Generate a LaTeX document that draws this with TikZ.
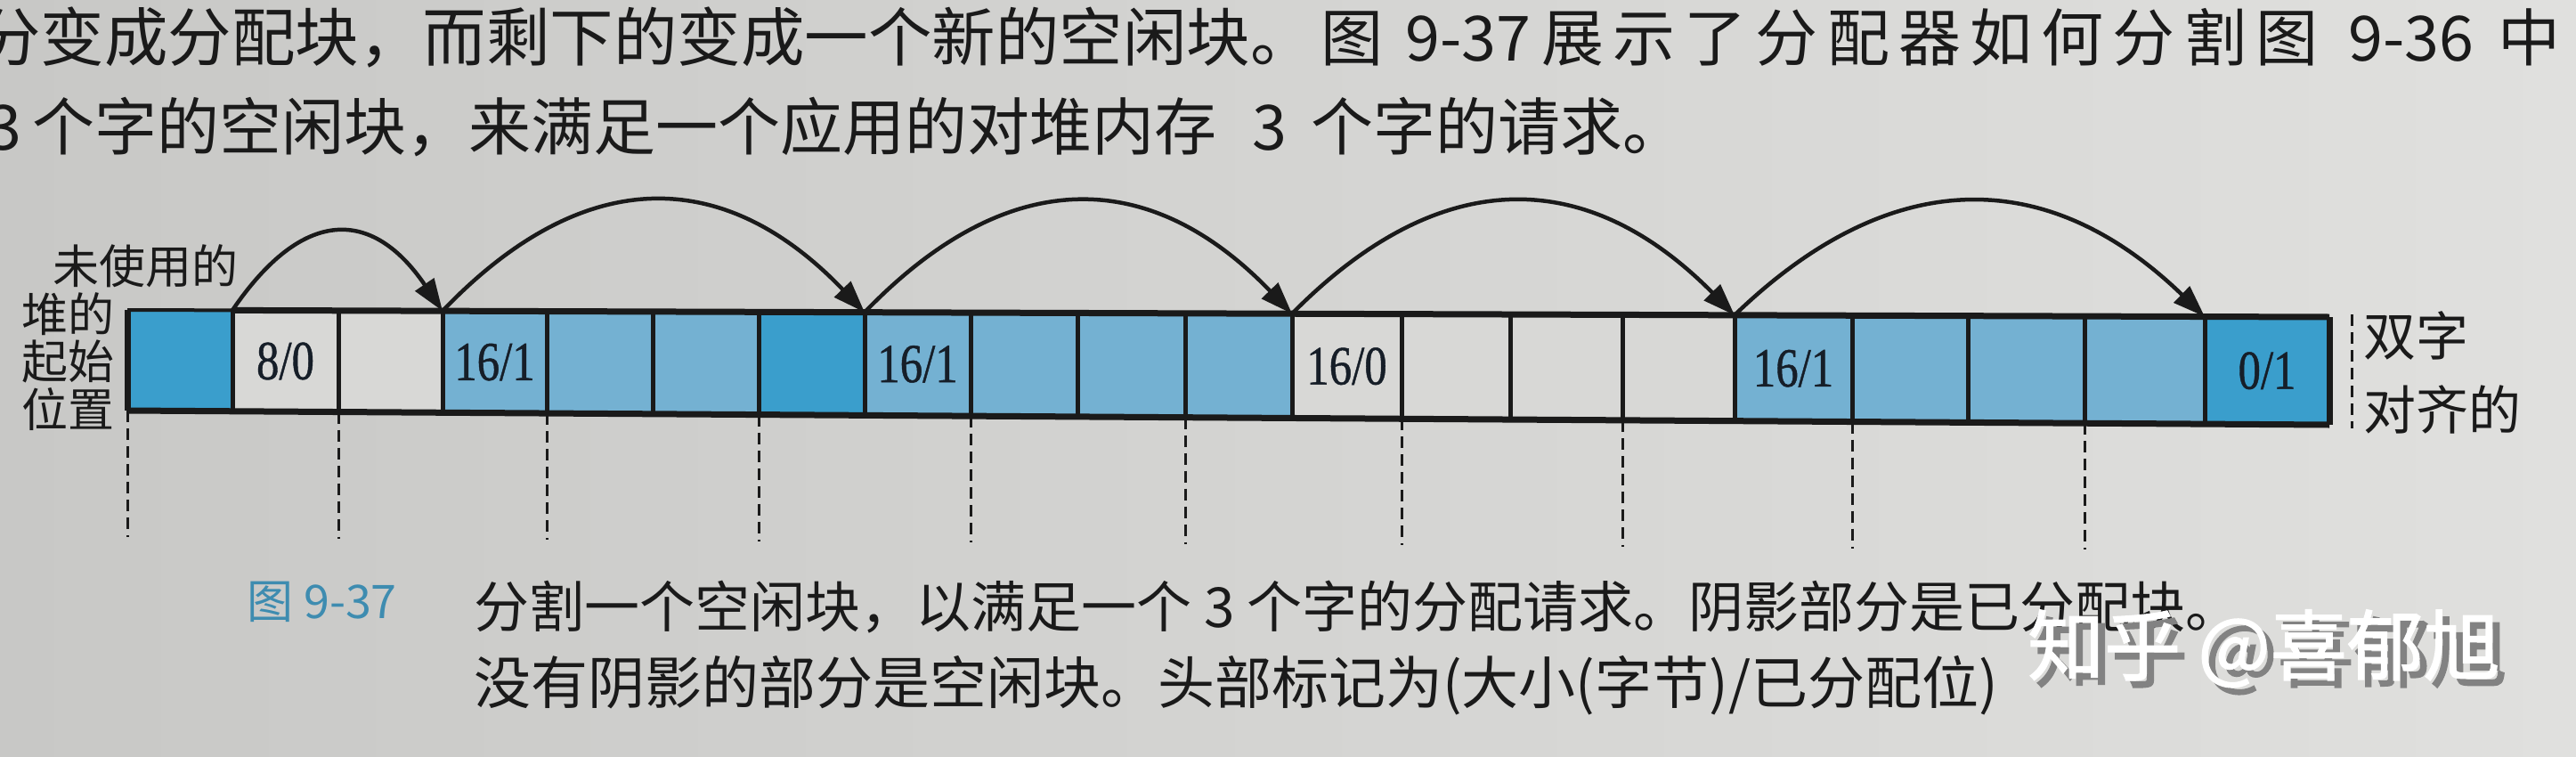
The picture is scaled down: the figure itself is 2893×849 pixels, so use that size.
\documentclass[tikz,border=0pt]{standalone}
\usepackage{fontspec}
\setmainfont{Liberation Serif}
\newfontfamily\cjk{Noto Sans CJK SC}
\newfontfamily\cjkwm[FakeBold=1.6]{Noto Sans CJK SC}
\newfontfamily\cellfont[FakeBold=0.8]{Liberation Serif}
\usetikzlibrary{arrows.meta,calc}
\definecolor{paperL}{RGB}{200,200,198}
\definecolor{paperR}{RGB}{224,224,222}
\definecolor{freecell}{RGB}{216,216,214}
\definecolor{darkblue}{RGB}{58,158,204}
\definecolor{lightblue}{RGB}{116,177,210}
\definecolor{inkc}{RGB}{26,26,26}
\definecolor{cellink}{RGB}{22,30,40}
\definecolor{capblue}{RGB}{62,140,176}
\definecolor{wmshadow}{RGB}{130,130,130}
\tikzset{
  toptext/.style={anchor=base west, inner sep=0pt, font=\cjk\fontsize{70pt}{70pt}\selectfont, text=inkc},
  captext/.style={anchor=base west, inner sep=0pt, font=\cjk\fontsize{62pt}{62pt}\selectfont, text=inkc},
  sidetext/.style={inner sep=0pt, font=\cjk\fontsize{52pt}{52pt}\selectfont, text=inkc},
  sidetextR/.style={anchor=base west, inner sep=0pt, font=\cjk\fontsize{59pt}{59pt}\selectfont, text=inkc},
  celltext/.style={inner sep=0pt, font=\cellfont\fontsize{62pt}{62pt}\selectfont, text=cellink},
  barline/.style={line width=7pt, draw=inkc},
  sepline/.style={line width=5pt, draw=inkc},
  guideline/.style={line width=3pt, draw=inkc, dash pattern=on 13pt off 7pt},
  arcline/.style={line width=4.5pt, draw=inkc, -{Triangle[length=36pt,width=25pt]}},
  wmark/.style={anchor=base west, inner sep=0pt, font=\cjkwm\fontsize{86pt}{86pt}\selectfont},
}
\begin{document}
\begin{tikzpicture}[x=1pt,y=-1pt]
\useasboundingbox (0,0) rectangle (2893,849);
\shade[left color=paperL, right color=paperR] (0,0) rectangle (2893,849);

% top text, line 1 (justified: wider spacing on the right)
\node[toptext, font=\cjk\fontsize{71.5pt}{71.5pt}\selectfont] (t1a) at (-26,68) {分变成分配块，而剩下的变成一个新的空闲块。};
\node[toptext] (t1b) at (1483,68) {图};
\node[toptext] (t1c) at (1578,68) {9-37};
\foreach \ch [count=\k from 0] in {展,示,了,分,配,器,如,何,分,割,图}{
  \node[toptext] (t1d\k) at (1731+80.2*\k,68) {\ch};
}
\node[toptext] (t1e) at (2637,68) {9-36};
\node[toptext] (t1f) at (2805,68) {中};
% line 2
\node[toptext] (t2a) at (-15,168) {3};
\node[toptext] (t2b) at (36,168) {个字的空闲块，来满足一个应用的对堆内存};
\node[toptext] (t2c) at (1406,168) {3};
\node[toptext] (t2d) at (1472,168) {个字的请求。};

% boundaries
\foreach \x [count=\i from 0] in {143,261,380,497,614,733,852,971,1090,1210,1331,1451,1574,1696,1822,1948,2080,2210,2341,2476,2616}{
  \pgfmathsetmacro\yt{348+0.003235*(\x-143)}
  \pgfmathsetmacro\yb{461+0.00647*(\x-143)}
  \coordinate (t\i) at (\x,\yt);
  \coordinate (b\i) at (\x,\yb);
}
% cell fills
\foreach \i/\c in {0/darkblue,1/freecell,2/freecell,3/lightblue,4/lightblue,5/lightblue,6/darkblue,
  7/lightblue,8/lightblue,9/lightblue,10/lightblue,11/freecell,12/freecell,13/freecell,14/freecell,
  15/lightblue,16/lightblue,17/lightblue,18/lightblue,19/darkblue}{
  \pgfmathtruncatemacro\j{\i+1}
  \fill[\c] (t\i) -- (t\j) -- (b\j) -- (b\i) -- cycle;
}
% lines
\draw[line width=4pt, draw=inkc] (t0) -- (t1);
\draw[barline] (t1) -- (t20);
\draw[barline] (b0) -- (b20);
\draw[barline] (t0) -- (b0);
\draw[barline] (t20) -- (b20);
\foreach \i in {1,...,19}{ \draw[sepline] (t\i) -- (b\i); }
% guides
\foreach \i in {0,2,...,18}{ \draw[guideline] (b\i) -- ++(0,142); }
\coordinate (rg1) at (2641,353);
\coordinate (rg2) at (2641,481);
\draw[guideline] (rg1) -- (rg2);

% cell labels
\node[celltext] (h1) at ($(t1)!0.5!(b2)$) {\scalebox{0.82}[1]{8/0}};
\node[celltext] (h3) at ($(t3)!0.5!(b4)$) {\scalebox{0.82}[1]{16/1}};
\node[celltext] (h7) at ($(t7)!0.5!(b8)$) {\scalebox{0.82}[1]{16/1}};
\node[celltext] (h11) at ($(t11)!0.5!(b12)$) {\scalebox{0.82}[1]{16/0}};
\node[celltext] (h15) at ($(t15)!0.5!(b16)$) {\scalebox{0.82}[1]{16/1}};
\node[celltext] (h19) at ($(t19)!0.5!(b20)$) {\scalebox{0.82}[1]{0/1}};

% arcs
\draw[arcline] (t1) .. controls +(79,-116) and +(-79,-116) .. (t3);
\draw[arcline] (t3) .. controls +(158,-165) and +(-158,-165) .. (t7);
\draw[arcline] (t7) .. controls +(160,-166) and +(-160,-166) .. (t11);
\draw[arcline] (t11) .. controls +(166,-168) and +(-166,-168) .. (t15);
\draw[arcline] (t15) .. controls +(176,-170) and +(-176,-170) .. (t19);

% side labels
\node[sidetext, anchor=base east] (s1) at (268,318) {未使用的};
\node[sidetext, anchor=base west] (s2) at (24,372) {堆的};
\node[sidetext, anchor=base west] (s3) at (24,425) {起始};
\node[sidetext, anchor=base west] (s4) at (24,479) {位置};
\node[sidetextR] (r1) at (2654,399) {双字};
\node[sidetextR] (r2) at (2654,482) {对齐的};

% caption
\node[anchor=base west, inner sep=0pt, font=\cjk\fontsize{52pt}{52pt}\selectfont, text=capblue] (cap0) at (277,694) {图\hspace{12pt}9-37};
\node[captext] (cap1) at (532,704) {分割一个空闲块，以满足一个 3 个字的分配请求。阴影部分是已分配块。};
\node[captext, font=\cjk\fontsize{64pt}{64pt}\selectfont] (cap2) at (532,790) {没有阴影的部分是空闲块。头部标记为(大小(字节)/已分配位)};

% watermark
\node[wmark, text=wmshadow] (wm0) at (2285,765) {知乎 @喜郁旭};
\node[wmark, text=white] (wm1) at (2277,757) {知乎 @喜郁旭};
\end{tikzpicture}
\end{document}
